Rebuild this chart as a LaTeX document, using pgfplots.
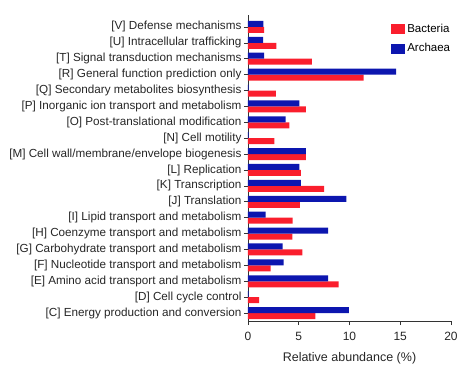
\documentclass[border=0pt]{standalone}
\usepackage{pgfplots}
\pgfplotsset{compat=1.18}
\usepackage{fontspec}
\setmainfont{Liberation Sans}
\definecolor{bred}{RGB}{250,30,45}
\definecolor{ablue}{RGB}{12,22,175}
\begin{document}
\begin{tikzpicture}
\begin{axis}[
  scale only axis,
  width=203pt, height=306pt,
  xmin=0, xmax=20, ymin=-0.5, ymax=18.75,
  xtick={0,5,10,15,20},
  ytick={0,...,18},
  yticklabels={{[C] Energy production and conversion},{[D] Cell cycle control},{[E] Amino acid transport and metabolism},{[F] Nucleotide transport and metabolism},{[G] Carbohydrate transport and metabolism},{[H] Coenzyme transport and metabolism},{[I] Lipid transport and metabolism},{[J] Translation},{[K] Transcription},{[L] Replication},{[M] Cell wall/membrane/envelope biogenesis},{[N] Cell motility},{[O] Post-translational modification},{[P] Inorganic ion transport and metabolism},{[Q] Secondary metabolites biosynthesis},{[R] General function prediction only},{[T] Signal transduction mechanisms},{[U] Intracellular trafficking},{[V] Defense mechanisms}},
  axis lines*=left,
  axis line style={black!80, line width=0.6pt},
  tick style={black!80, line width=0.6pt},
  tick align=outside,
  major tick length=4pt,
  /pgf/number format/assume math mode=true,
  yticklabel style={font=\fontsize{11.7}{13}\selectfont, text=black!85, xshift=1pt},
  xticklabel style={font=\fontsize{12}{14}\selectfont, text=black!85, yshift=-4pt},
  xlabel={Relative abundance (\%)},
  xlabel style={font=\fontsize{12.5}{14}\selectfont, text=black!85, yshift=-5pt},
  xbar,
  bar width=6pt,
  legend style={at={(rel axis cs:0.69,0.985)}, anchor=north west, draw=none, fill=none,
    font=\fontsize{11.5}{13}\selectfont, row sep=6pt, legend cell align=left},
  legend image code/.code={\fill[#1] (0pt,-5pt) rectangle (14pt,5pt);},
]
\addplot[draw=none, fill=bred, bar shift=-3pt] coordinates {
(6.63,0) (1.1,1) (8.93,2) (2.23,3) (5.35,4) (4.37,5) (4.4,6) (5.1,7) (7.5,8) (5.2,9)
(5.7,10) (2.6,11) (4.07,12) (5.7,13) (2.75,14) (11.4,15) (6.3,16) (2.8,17) (1.6,18)};
\addplot[draw=none, fill=ablue, bar shift=3pt] coordinates {
(9.95,0) (0.07,1) (7.9,2) (3.5,3) (3.4,4) (7.9,5) (1.74,6) (9.7,7) (5.2,8) (5.06,9)
(5.7,10) (0.05,11) (3.7,12) (5.06,13) (0.07,14) (14.6,15) (1.6,16) (1.5,17) (1.51,18)};
\legend{Bacteria, Archaea}
\end{axis}
\path (current axis.south west) ++(-248pt,-65pt) rectangle ++(474pt,386pt);
\end{tikzpicture}
\end{document}
